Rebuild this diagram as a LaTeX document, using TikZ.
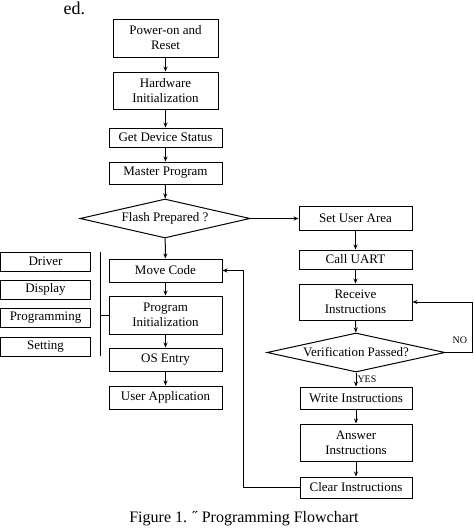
\documentclass[tikz,border=0pt]{standalone}
\usepackage{fontspec}
\setmainfont{Liberation Serif}
\usepackage{tikz}
\usetikzlibrary{shapes.geometric, arrows.meta, positioning, calc}

\begin{document}
\begin{tikzpicture}[
  x=1pt, y=-1pt,
  box/.style={rectangle, draw, line width=1pt, minimum width=113pt, minimum height=22pt,
    font=\fontsize{13}{15}\selectfont, align=center, inner sep=1pt},
  sidebox/.style={box, minimum width=90pt, minimum height=19pt},
  decision/.style={diamond, draw, line width=1pt, aspect=4.4, inner sep=1pt,
    font=\fontsize{13}{15}\selectfont},
  arrow/.style={-{Stealth[length=5pt,width=4pt]}, line width=1pt},
  link/.style={line width=1pt}
]
  \useasboundingbox (0,0) rectangle (474,528);
  \node[anchor=base west, font=\fontsize{18}{20}\selectfont] (frag) at (60,14) {ed.};

  % main column
  \node[box, minimum width=105pt, minimum height=38pt] (pwr) at (165.5,38) {Power-on and\\Reset};
  \node[box, minimum width=105pt, minimum height=37pt] (hw) at (165.5,90.5) {Hardware\\Initialization};
  \node[box, minimum height=19pt] (status) at (165.5,137.5) {Get Device Status};
  \node[box] (master) at (165.5,173) {Master Program};
  \node[decision, minimum width=170pt, minimum height=39pt] (flash) at (165,218.5) {Flash Prepared ?};
  \node[box, minimum height=23pt] (move) at (165.5,270.5) {Move Code};
  \node[box, minimum height=38pt] (init) at (165.5,315) {Program\\Initialization};
  \node[box, minimum height=23pt] (os) at (165.5,359.5) {OS Entry};
  \node[box, minimum height=23pt] (user) at (165.5,397.5) {User Application};

  % modules
  \node[sidebox] (driver) at (45.5,261.5) {Driver};
  \node[sidebox] (display) at (45.5,289.5) {Display};
  \node[sidebox] (prog) at (45.5,318) {Programming};
  \node[sidebox] (setting) at (45.5,346.5) {Setting};
  \coordinate (btop) at (100,252);
  \coordinate (bbot) at (100,356);
  \coordinate (bmid) at (100,315);

  % right column
  \node[box, minimum height=24pt] (area) at (355.5,218.5) {Set User Area};
  \node[box, minimum height=19pt] (uart) at (355.5,259.5) {Call UART};
  \node[box, minimum height=36pt] (recv) at (355.5,302) {Receive\\Instructions};
  \node[decision, minimum width=178pt, minimum height=39pt] (verify) at (356,352.5) {Verification Passed?};
  \node[box, minimum width=112pt] (write) at (356,398) {Write Instructions};
  \node[box, minimum width=112pt, minimum height=37pt] (answer) at (356,442.5) {Answer\\Instructions};
  \node[box, minimum width=112pt, minimum height=21pt] (clear) at (356,487.5) {Clear Instructions};

  \draw[arrow] (write) edge (answer) (answer) edge (clear);
  \draw[arrow] (pwr) -- (hw);
  \draw[arrow] (hw) -- (status);
  \draw[arrow] (status) -- (master);
  \draw[arrow] (master) -- (flash);
  \draw[arrow] (flash) -- (move);
  \draw[arrow] (move) -- (init);
  \draw[arrow] (init) -- (os);
  \draw[arrow] (os) -- (user);
  \draw[arrow] (flash) -- (area);
  \draw[arrow] (area) -- (uart);
  \draw[arrow] (uart) -- (recv);
  \draw[arrow] (recv) -- (verify);
  \draw[arrow] (verify) -- node[right, font=\fontsize{10}{12}\selectfont, inner sep=1pt] (yes) {YES} (write);
  \draw[arrow] (verify.east) -- ++(27,0) |- node[pos=0.12, left=4pt, font=\fontsize{10}{12}\selectfont, inner sep=1pt] (no) {NO} (recv.east);
  \draw[arrow] (clear.west) -- ++(-56,0) |- (move.east);
  \draw[link] (btop) -- (bbot);
  \draw[link] (bmid) -- (init.west |- bmid);

  \node[anchor=base, font=\fontsize{16}{18}\selectfont] (caption) at (244,522) {Figure 1. ˝ Programming Flowchart};
\end{tikzpicture}
\end{document}
